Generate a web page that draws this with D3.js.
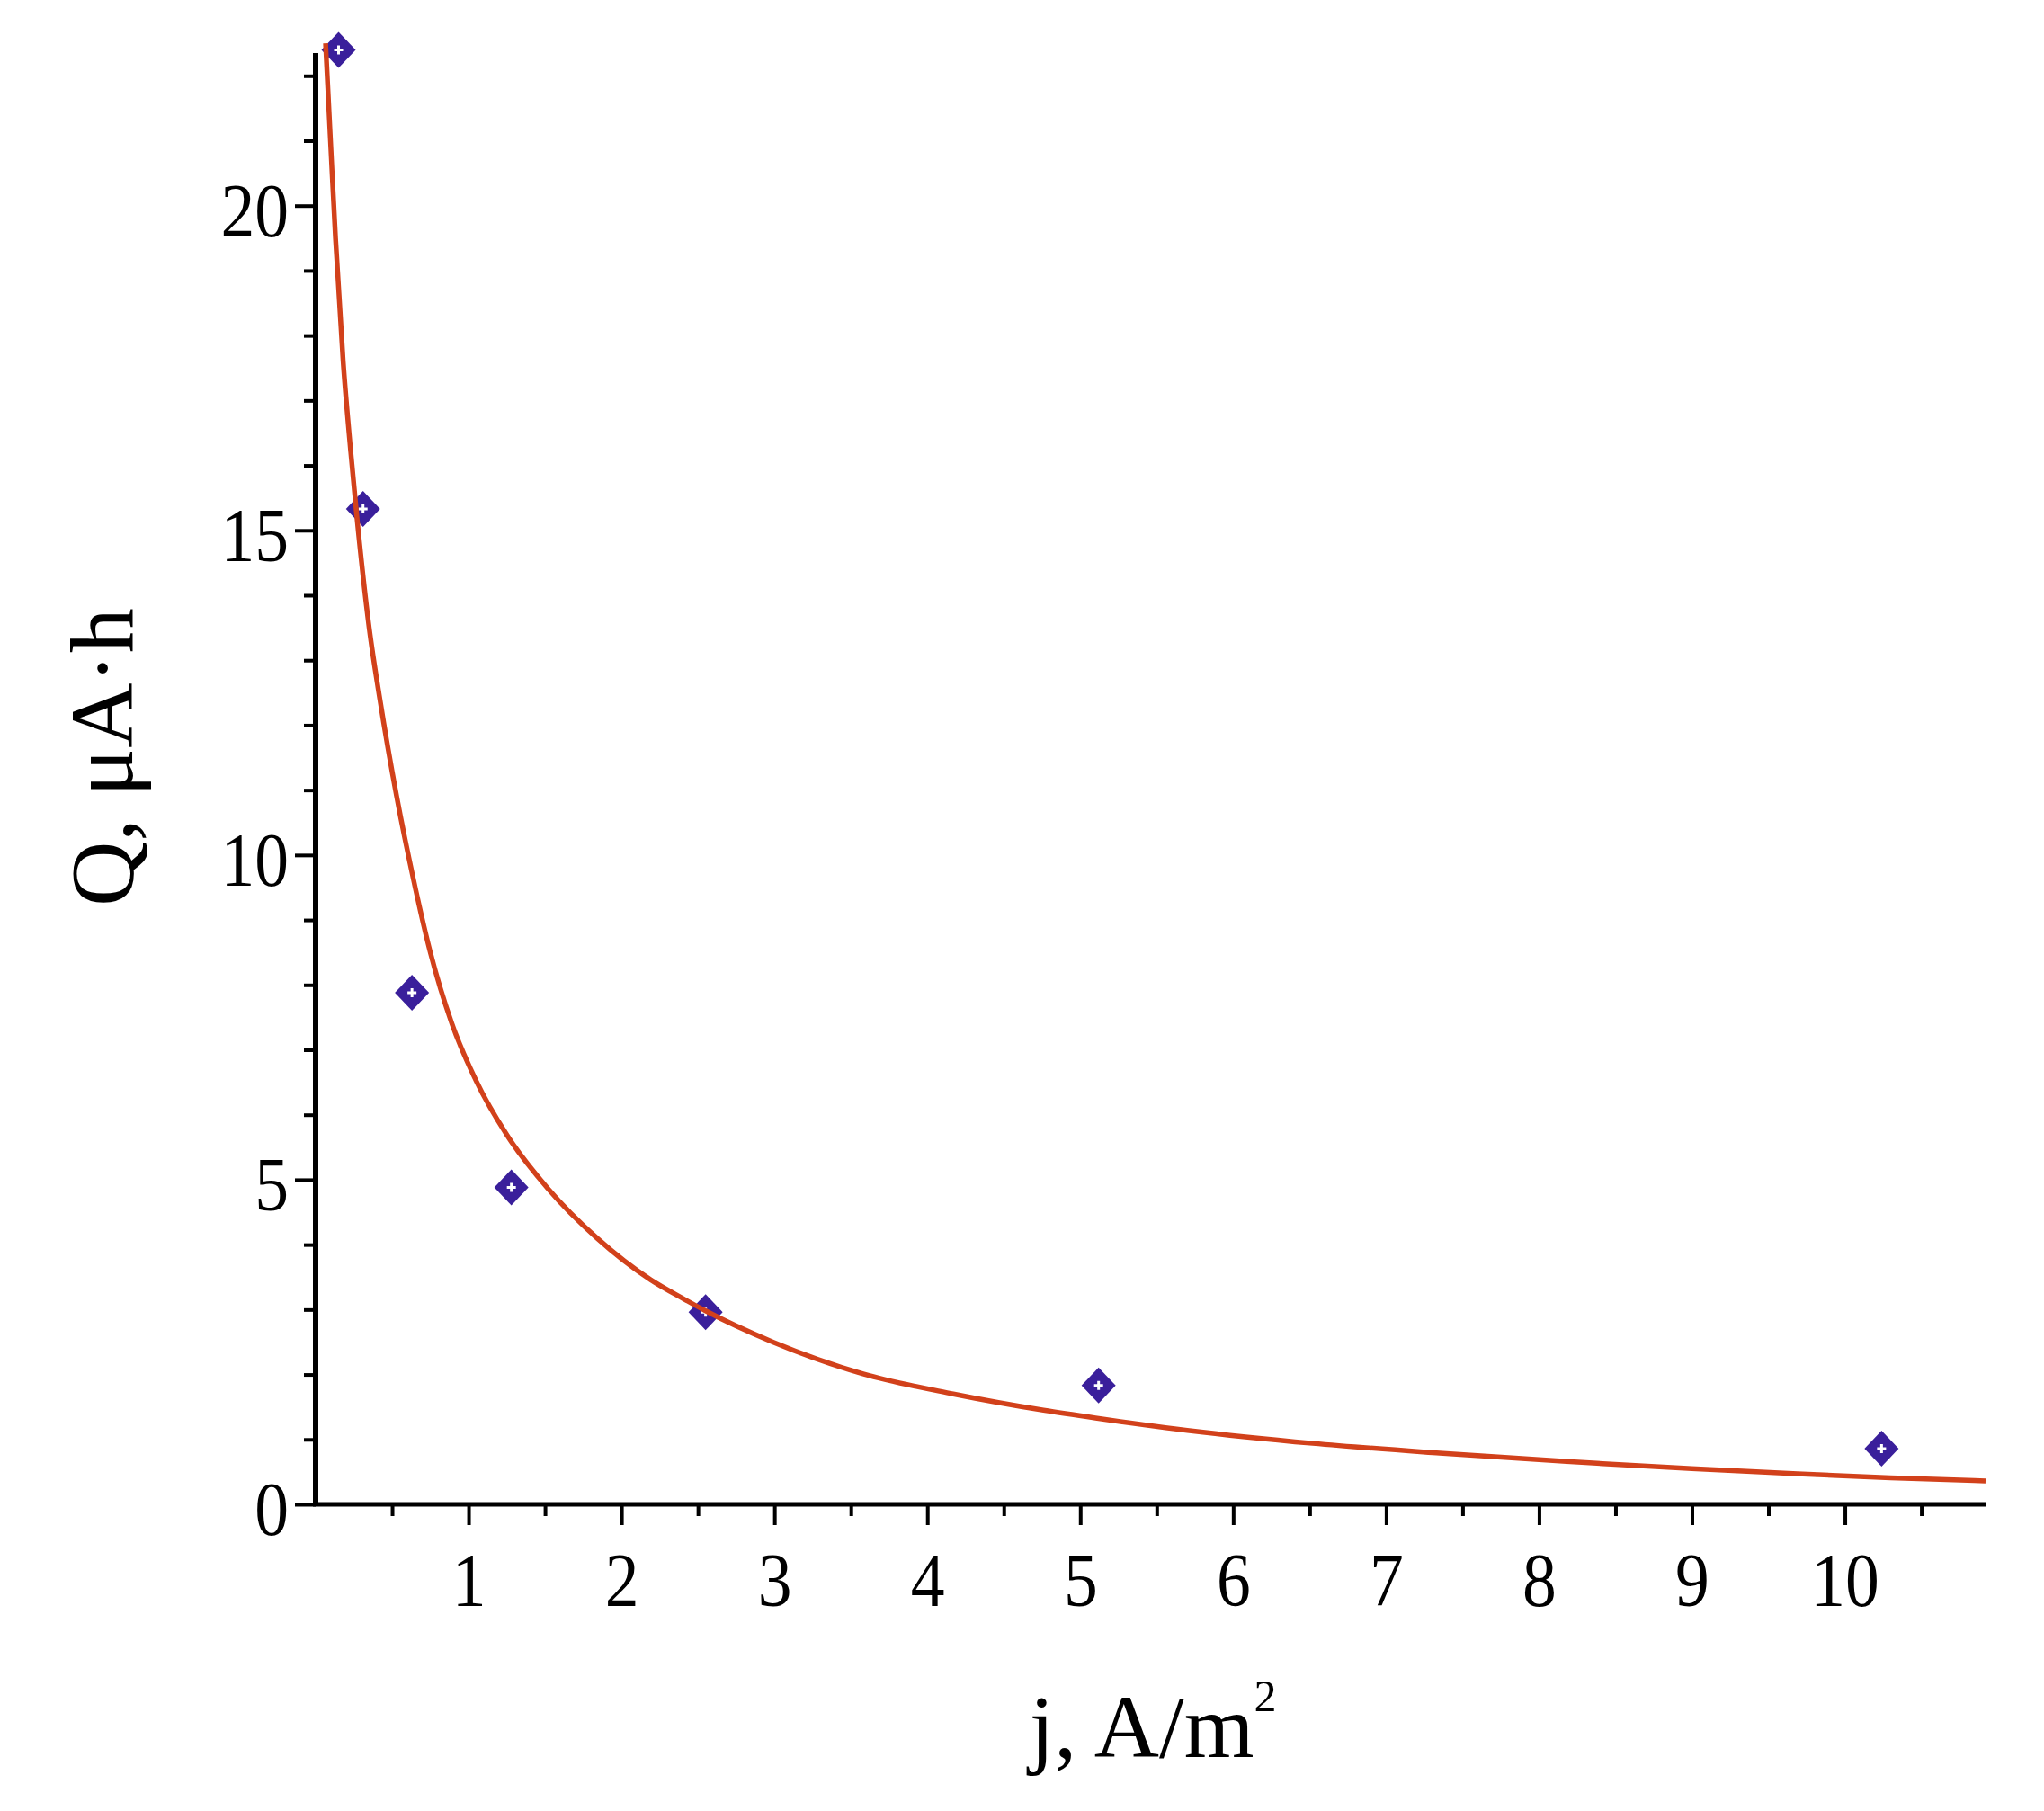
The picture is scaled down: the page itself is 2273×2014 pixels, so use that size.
<!DOCTYPE html>
<html>
<head>
<meta charset="utf-8">
<script src="https://cdn.jsdelivr.net/npm/d3@7"></script>
<style>
  html, body { margin: 0; padding: 0; background: #fff; }
  svg { display: block; }
  text { font-family: "Liberation Serif", "DejaVu Serif", serif; fill: #000; }
</style>
</head>
<body>
<svg id="chart" width="2273" height="2014"></svg>
<script>
// ----------------------------
// Data
// ----------------------------
const pointJ = [0.15, 0.31, 0.63, 1.28, 2.55, 5.12, 10.24];
const pointQ = [22.4, 15.33, 7.88, 4.88, 2.96, 1.83, 0.86];

const curveJ = [0.065, 0.08, 0.095, 0.11, 0.13, 0.18, 0.23, 0.27, 0.35, 0.42, 0.53, 0.64, 0.75, 0.89,
                1.05, 1.25, 1.52, 1.84, 2.19, 2.41, 2.55, 2.99, 3.58, 4.17, 4.76, 5.1, 5.7, 6.52,
                7.35, 8.18, 9.0, 9.69, 10.3, 10.92];
const curveQ = [22.5, 21.8, 21.1, 20.4, 19.5, 17.6, 16.2, 15.2, 13.5, 12.4, 10.9, 9.62, 8.5, 7.41,
                6.52, 5.69, 4.86, 4.10, 3.46, 3.16, 2.98, 2.5, 2.01, 1.70, 1.45, 1.33, 1.14, 0.94,
                0.79, 0.66, 0.55, 0.47, 0.41, 0.36];

const xTicks = [1, 2, 3, 4, 5, 6, 7, 8, 9, 10];
const xMinor = [0.5, 1.5, 2.5, 3.5, 4.5, 5.5, 6.5, 7.5, 8.5, 9.5, 10.5];
const yTicks = [0, 5, 10, 15, 20];
const yMinor = d3.range(1, 23).filter(v => v % 5 !== 0);

const xLabel = "j, A/m";
const xLabelSup = "2";
const yLabel = "Q, μA·h";

// ----------------------------
// Plotting
// ----------------------------
const svg = d3.select("#chart");

const xScale = d3.scaleLinear().domain([0, 10.92]).range([351, 2208]);
const yScale = d3.scaleLinear().domain([0, 22.35]).range([1673, 59]);

const lineColor = "#d2411b";
const pointColor = "#3a1f9b";

// minor ticks first, so the major axes sit on top
svg.append("g")
    .attr("transform", `translate(0,${yScale(0)})`)
    .call(d3.axisBottom(xScale).tickValues(xMinor).tickSize(13).tickFormat(""))
    .call(g => g.select(".domain").remove())
    .call(g => g.selectAll("line").attr("stroke", "#000").attr("stroke-width", 4));

svg.append("g")
    .attr("transform", `translate(${xScale(0)},0)`)
    .call(d3.axisLeft(yScale).tickValues(yMinor).tickSize(13).tickFormat(""))
    .call(g => g.select(".domain").remove())
    .call(g => g.selectAll("line").attr("stroke", "#000").attr("stroke-width", 4));

// x axis
const gx = svg.append("g")
    .attr("transform", `translate(0,${yScale(0)})`)
    .call(d3.axisBottom(xScale).tickValues(xTicks).tickSize(23).tickSizeOuter(0).tickPadding(30));
gx.select(".domain").attr("stroke", "#000").attr("stroke-width", 5)
    .attr("d", `M${xScale(0) - 3},0H${xScale(10.92)}`);
gx.selectAll("line").attr("stroke", "#000").attr("stroke-width", 4);
// glyphs in the original are a bit narrow, so squeeze them horizontally
gx.selectAll(".tick text")
    .attr("font-size", 84)
    .attr("font-family", "Liberation Serif, serif")
    .attr("dy", "0.71em")
    .attr("transform", "scale(0.9,1)");

// y axis
const gy = svg.append("g")
    .attr("transform", `translate(${xScale(0)},0)`)
    .call(d3.axisLeft(yScale).tickValues(yTicks).tickSize(23).tickSizeOuter(0).tickPadding(7));
gy.select(".domain").attr("stroke", "#000").attr("stroke-width", 6)
    .attr("d", `M0,${yScale(0) + 2}V${yScale(22.35)}`);
gy.selectAll("line").attr("stroke", "#000").attr("stroke-width", 4);
gy.selectAll(".tick text")
    .attr("font-size", 84)
    .attr("font-family", "Liberation Serif, serif")
    .attr("dy", "0.4em")
    .attr("x", -30 / 0.9)
    .attr("transform", "scale(0.9,1)");

// diamonds with a small white cross in the middle
const pts = pointJ.map((j, i) => [j, pointQ[i]]);
const diamond = "M0,-20L19,0L0,20L-19,0Z";
const cross = "M-5,-1.5H5V1.5H-5ZM-1.5,-5H1.5V5H-1.5Z";
const pg = svg.append("g");
pg.selectAll("path.dia")
    .data(pts)
    .join("path")
    .attr("class", "dia")
    .attr("transform", d => `translate(${xScale(d[0])},${yScale(d[1])})`)
    .attr("d", diamond)
    .attr("fill", pointColor);
pg.selectAll("path.cross")
    .data(pts)
    .join("path")
    .attr("class", "cross")
    .attr("transform", d => `translate(${xScale(d[0])},${yScale(d[1])})`)
    .attr("d", cross)
    .attr("fill", "#fff");

// fitted curve, drawn over the points like in the original
const curveData = curveJ.map((j, i) => [j, curveQ[i]]);
const lineGen = d3.line()
    .x(d => xScale(d[0]))
    .y(d => yScale(d[1]))
    .curve(d3.curveMonotoneX);

svg.append("path")
    .datum(curveData)
    .attr("fill", "none")
    .attr("stroke", lineColor)
    .attr("stroke-width", 5.5)
    .attr("stroke-linejoin", "round")
    .attr("d", lineGen);

// axis titles
const xt = svg.append("text")
    .attr("x", 1282)
    .attr("y", 1954)
    .attr("text-anchor", "middle")
    .attr("font-size", 100)
    .text(xLabel);
xt.append("tspan")
    .attr("dy", -51)
    .attr("font-size", 50)
    .text(xLabelSup);

svg.append("text")
    .attr("transform", "translate(147,842) rotate(-90)")
    .attr("text-anchor", "middle")
    .attr("font-size", 100)
    .text(yLabel);
</script>
</body>
</html>
